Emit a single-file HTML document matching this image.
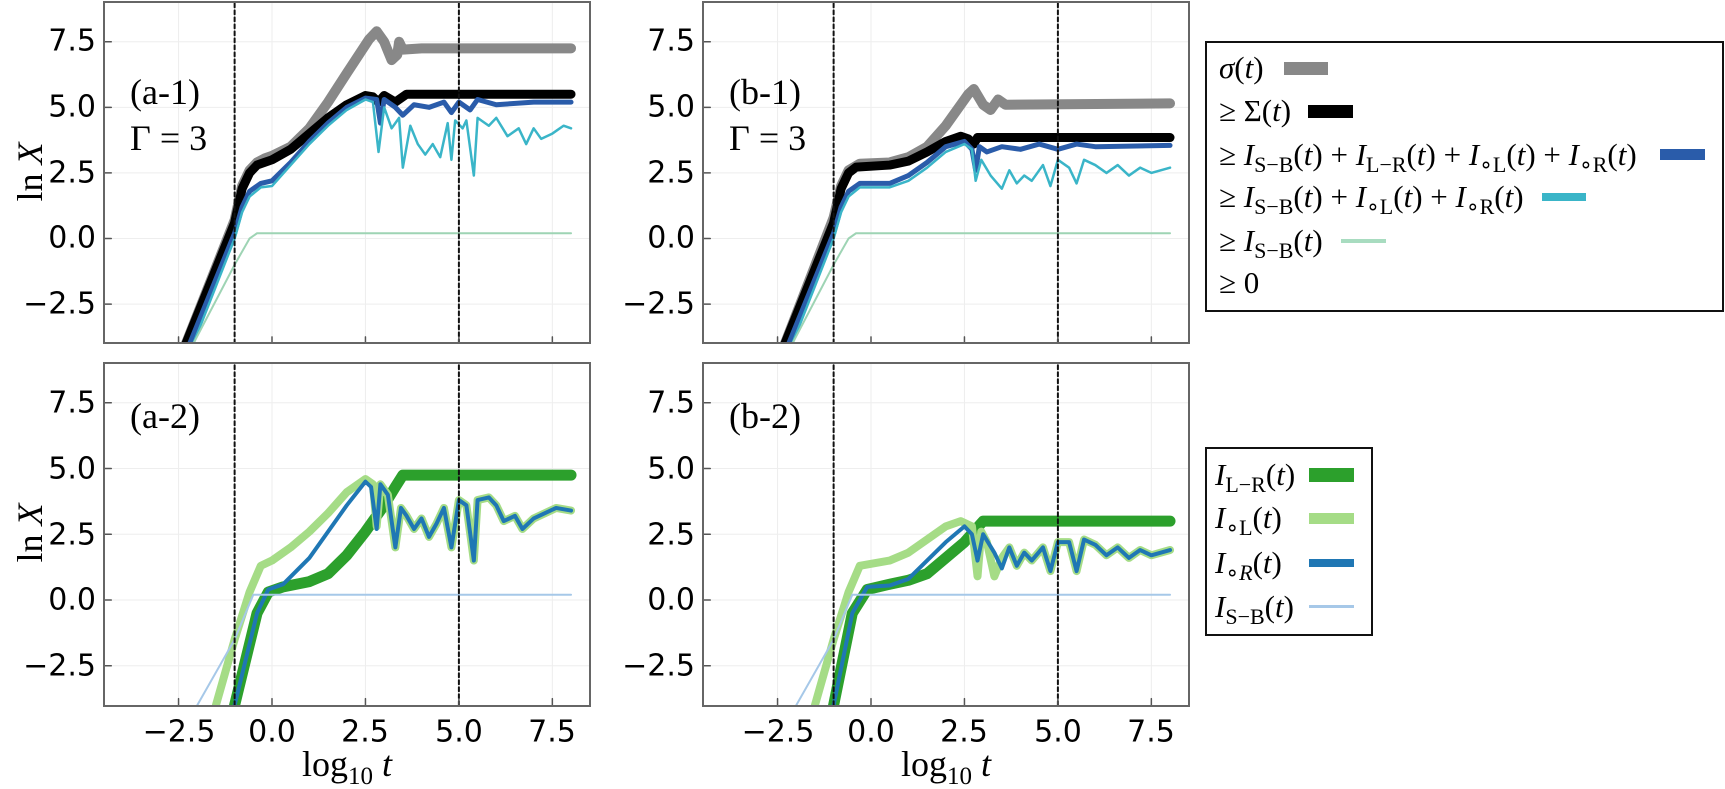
<!DOCTYPE html>
<html><head><meta charset="utf-8"><style>
html,body{margin:0;padding:0;background:#fff;}
body{width:1725px;height:789px;position:relative;overflow:hidden;font-family:"Liberation Serif",serif;}
.lg{position:absolute;border:2px solid #111;background:#fff;box-sizing:border-box;}
.it{position:absolute;font-family:"Liberation Serif",serif;font-size:31px;line-height:30px;white-space:nowrap;color:#000;}
.it i{font-style:italic;}
.it sub{font-size:22px;vertical-align:-7px;line-height:0;}
.sw{position:absolute;}
</style></head><body>
<svg width="1725" height="789" style="position:absolute;left:0;top:0" xmlns="http://www.w3.org/2000/svg">
<defs>
<clipPath id="c1"><rect x="104" y="2" width="486" height="341"/></clipPath>
<clipPath id="c2"><rect x="703" y="2" width="486" height="341"/></clipPath>
<clipPath id="c3"><rect x="104" y="363" width="486" height="343"/></clipPath>
<clipPath id="c4"><rect x="703" y="363" width="486" height="343"/></clipPath>
<g id="grid" stroke="#eee" stroke-width="1" fill="none">
<path vector-effect="non-scaling-stroke" d="M-2.5,-4V9M0,-4V9M2.5,-4V9M5,-4V9M7.5,-4V9M-4.5,-2.5H8.5M-4.5,0H8.5M-4.5,2.5H8.5M-4.5,5H8.5M-4.5,7.5H8.5"/>
</g>
<g id="vl"><path vector-effect="non-scaling-stroke" d="M-1,-4V9M5,-4V9" stroke="#111" stroke-width="2" stroke-dasharray="4,3" fill="none"/></g>
<g id="ticks"><path vector-effect="non-scaling-stroke" d="M-2.5,-4V-3.75M0,-4V-3.75M2.5,-4V-3.75M5,-4V-3.75M7.5,-4V-3.75M-4.5,-2.5H-4.3M-4.5,0H-4.3M-4.5,2.5H-4.3M-4.5,5H-4.3M-4.5,7.5H-4.3" stroke="#555" stroke-width="1.5" fill="none"/></g>
</defs>

<g clip-path="url(#c1)"><g transform="translate(272,238.5) scale(37.38,-26.23)" fill="none" stroke-linejoin="round" stroke-linecap="round">
<use href="#grid"/>
<polyline vector-effect="non-scaling-stroke" stroke="#888" stroke-width="10" points="-2.3,-4 -1,0.7 -0.8,2 -0.6,2.6 -0.4,2.9 -0.2,3.05 0,3.15 0.5,3.5 1,4.2 1.5,5.2 2,6.3 2.6,7.6 2.8,7.9 3,7.5 3.2,6.8 3.35,7 3.4,7.5 3.5,7.2 4,7.25 8,7.25"/>
<polyline vector-effect="non-scaling-stroke" stroke="#000" stroke-width="9" points="-2.3,-4 -1,0.6 -0.8,1.9 -0.6,2.5 -0.4,2.8 -0.2,2.9 0,3 0.5,3.4 1,4 1.5,4.6 2,5.1 2.5,5.45 2.7,5.4 2.85,5.2 3,5.45 3.3,5.2 3.6,5.5 8,5.5"/>
<polyline vector-effect="non-scaling-stroke" stroke="#2a5caa" stroke-width="5" points="-2.2,-4 -1,0.2 -0.8,1.2 -0.6,1.8 -0.3,2.1 0,2.2 0.5,2.9 1,3.7 1.5,4.4 2,5 2.5,5.35 2.8,5.3 2.9,4.4 3,5.3 3.3,5 3.5,4.7 3.8,5.1 4.2,5 4.6,5.2 4.8,4.8 5,5.2 5.3,4.9 5.5,5.3 6,5.1 7,5.2 8,5.2"/>
<polyline vector-effect="non-scaling-stroke" stroke="#3ab5c8" stroke-width="2.5" points="-2.1,-4 -1,0 -0.8,1 -0.6,1.6 -0.3,1.95 0,2 0.5,2.8 1,3.6 1.5,4.3 2,4.9 2.5,5.3 2.7,5.2 2.85,3.3 3,5 3.2,4.2 3.4,4.6 3.5,2.7 3.7,4.3 3.9,3.6 4.1,3.2 4.3,3.6 4.5,3.1 4.7,4.4 4.8,3 4.9,4.5 5.1,4.2 5.2,4.5 5.4,2.4 5.5,4.6 5.8,4.3 6,4.6 6.3,3.9 6.6,4.2 6.8,3.6 7,4.2 7.2,3.8 7.5,4 7.8,4.3 8,4.2"/>
<polyline vector-effect="non-scaling-stroke" stroke="#9ed4b4" stroke-width="2" points="-2.1,-4 -1,-1 -0.6,0 -0.4,0.2 8,0.2"/>
<use href="#vl"/><use href="#ticks"/>
</g></g>
<rect x="104" y="2" width="486" height="341" fill="none" stroke="#666" stroke-width="2"/>

<g clip-path="url(#c2)"><g transform="translate(871,238.5) scale(37.38,-26.23)" fill="none" stroke-linejoin="round" stroke-linecap="round">
<use href="#grid"/>
<polyline vector-effect="non-scaling-stroke" stroke="#888" stroke-width="10" points="-2.3,-4 -1,0.8 -0.8,2 -0.6,2.6 -0.3,2.85 0.5,2.9 1,3.1 1.5,3.5 2,4.3 2.4,5.1 2.6,5.5 2.75,5.7 3,5.1 3.2,4.9 3.4,5.3 3.6,5.1 8,5.15"/>
<polyline vector-effect="non-scaling-stroke" stroke="#000" stroke-width="9" points="-2.3,-4 -1,0.6 -0.8,1.9 -0.6,2.5 -0.4,2.72 0.5,2.8 1,2.95 1.5,3.3 2,3.7 2.4,3.9 2.6,3.8 2.75,3.6 2.85,3.85 8,3.85"/>
<polyline vector-effect="non-scaling-stroke" stroke="#2a5caa" stroke-width="5" points="-2.2,-4 -1,0.2 -0.8,1.2 -0.6,1.8 -0.3,2.1 0.5,2.1 1,2.4 1.5,2.9 2,3.5 2.5,3.7 2.7,3.4 2.8,2.6 2.9,3.5 3.1,3.3 3.5,3.5 4,3.4 4.5,3.6 5,3.4 5.5,3.6 6,3.5 8,3.55"/>
<polyline vector-effect="non-scaling-stroke" stroke="#3ab5c8" stroke-width="2.5" points="-2.1,-4 -1,0 -0.8,1 -0.6,1.6 -0.3,1.95 0.5,1.95 1,2.2 1.5,2.7 2,3.3 2.5,3.6 2.7,3.4 2.8,2.2 2.95,3 3.2,2.4 3.5,1.9 3.7,2.6 3.9,2.1 4.1,2.4 4.3,2.2 4.6,2.8 4.8,2 5,3 5.3,2.7 5.5,2.1 5.7,3 6,2.8 6.3,2.5 6.6,2.8 6.9,2.4 7.2,2.7 7.5,2.5 8,2.7"/>
<polyline vector-effect="non-scaling-stroke" stroke="#9ed4b4" stroke-width="2" points="-2.1,-4 -1,-1 -0.6,0 -0.4,0.2 8,0.2"/>
<use href="#vl"/><use href="#ticks"/>
</g></g>
<rect x="703" y="2" width="486" height="341" fill="none" stroke="#666" stroke-width="2"/>

<g clip-path="url(#c3)"><g transform="translate(272,600) scale(37.38,-26.3)" fill="none" stroke-linejoin="round" stroke-linecap="round">
<use href="#grid"/>
<polyline vector-effect="non-scaling-stroke" stroke="#2ca02c" stroke-width="11" points="-1,-4 -0.4,-0.5 -0.1,0.3 0.3,0.5 1,0.7 1.5,1 2,1.7 2.5,2.6 3,3.6 3.3,4.3 3.5,4.75 8,4.75"/>
<polyline vector-effect="non-scaling-stroke" stroke="#a5dc86" stroke-width="8" points="-1.5,-4 -1,-1.5 -0.6,0.3 -0.3,1.3 0,1.5 0.5,2 1,2.6 1.5,3.3 2,4.1 2.5,4.6 2.7,4.4 2.8,2.8 2.9,4.4 3.1,4 3.3,2 3.45,3.5 3.6,3.2 3.8,2.7 4,3.1 4.2,2.4 4.4,2.9 4.6,3.5 4.8,2 5,3.8 5.2,3.6 5.4,1.5 5.5,3.8 5.8,3.9 6,3.6 6.2,3 6.5,3.2 6.7,2.7 7,3.1 7.3,3.3 7.6,3.5 8,3.4"/>
<polyline vector-effect="non-scaling-stroke" stroke="#1f77b4" stroke-width="4" points="-1,-4 -0.4,-0.5 -0.1,0.4 0.3,0.6 1,1.6 1.5,2.6 2,3.6 2.5,4.5 2.65,4.3 2.8,2.7 2.9,4.4 3.1,4 3.3,2 3.45,3.5 3.6,3.2 3.8,2.7 4,3.1 4.2,2.4 4.4,2.9 4.6,3.5 4.8,2 5,3.8 5.2,3.6 5.4,1.5 5.5,3.8 5.8,3.9 6,3.6 6.2,3 6.5,3.2 6.7,2.7 7,3.1 7.3,3.3 7.6,3.5 8,3.4"/>
<polyline vector-effect="non-scaling-stroke" stroke="#a6c8e8" stroke-width="2" points="-2,-4 -1,-1.5 -0.5,0.2 8,0.2"/>
<use href="#vl"/><use href="#ticks"/>
</g></g>
<rect x="104" y="363" width="486" height="343" fill="none" stroke="#666" stroke-width="2"/>

<g clip-path="url(#c4)"><g transform="translate(871,600) scale(37.38,-26.3)" fill="none" stroke-linejoin="round" stroke-linecap="round">
<use href="#grid"/>
<polyline vector-effect="non-scaling-stroke" stroke="#2ca02c" stroke-width="11" points="-1,-4 -0.5,-0.5 -0.1,0.4 0.5,0.6 1,0.75 1.5,1 2,1.6 2.5,2.2 3,3 8,3"/>
<polyline vector-effect="non-scaling-stroke" stroke="#a5dc86" stroke-width="8" points="-1.5,-4 -1,-1.5 -0.6,0.3 -0.3,1.3 0.5,1.5 1,1.8 1.5,2.3 2,2.8 2.4,3 2.7,2.8 2.85,0.9 2.95,2.6 3.1,2.2 3.3,0.9 3.5,1.6 3.7,2 3.9,1.3 4.1,1.8 4.3,1.5 4.6,2 4.8,1.1 5,2.2 5.3,2.2 5.5,1.1 5.7,2.3 6,2.1 6.3,1.7 6.6,2 6.9,1.6 7.2,1.9 7.5,1.7 8,1.9"/>
<polyline vector-effect="non-scaling-stroke" stroke="#1f77b4" stroke-width="4" points="-1,-4 -0.5,-0.5 -0.1,0.5 0.5,0.55 1,0.8 1.5,1.5 2,2.2 2.5,2.8 2.7,2.5 2.85,1.5 3,2.5 3.3,1.8 3.5,1.2 3.7,2 3.9,1.3 4.1,1.8 4.3,1.5 4.6,2 4.8,1.1 5,2.2 5.3,2.2 5.5,1.1 5.7,2.3 6,2.1 6.3,1.7 6.6,2 6.9,1.6 7.2,1.9 7.5,1.7 8,1.9"/>
<polyline vector-effect="non-scaling-stroke" stroke="#a6c8e8" stroke-width="2" points="-2,-4 -1,-1.5 -0.5,0.2 8,0.2"/>
<use href="#vl"/><use href="#ticks"/>
</g></g>
<rect x="703" y="363" width="486" height="343" fill="none" stroke="#666" stroke-width="2"/>

<g font-family="DejaVu Sans, sans-serif" font-size="30" fill="#000" text-anchor="end" dominant-baseline="central">
<text x="96" y="41">7.5</text><text x="96" y="107">5.0</text><text x="96" y="173">2.5</text><text x="96" y="238">0.0</text><text x="96" y="304">−2.5</text>
<text x="695" y="41">7.5</text><text x="695" y="107">5.0</text><text x="695" y="173">2.5</text><text x="695" y="238">0.0</text><text x="695" y="304">−2.5</text>
<text x="96" y="403">7.5</text><text x="96" y="469">5.0</text><text x="96" y="535">2.5</text><text x="96" y="600">0.0</text><text x="96" y="666">−2.5</text>
<text x="695" y="403">7.5</text><text x="695" y="469">5.0</text><text x="695" y="535">2.5</text><text x="695" y="600">0.0</text><text x="695" y="666">−2.5</text>
</g>
<g font-family="DejaVu Sans, sans-serif" font-size="30" fill="#000" text-anchor="middle" dominant-baseline="central">
<text x="179" y="732">−2.5</text><text x="272" y="732">0.0</text><text x="365" y="732">2.5</text><text x="459" y="732">5.0</text><text x="552" y="732">7.5</text>
<text x="778" y="732">−2.5</text><text x="871" y="732">0.0</text><text x="964" y="732">2.5</text><text x="1058" y="732">5.0</text><text x="1151" y="732">7.5</text>
</g>
<g font-family="Liberation Serif, serif" font-size="36" fill="#000">
<text transform="translate(30,172) rotate(-90)" text-anchor="middle" dominant-baseline="central">ln <tspan font-style="italic">X</tspan></text>
<text transform="translate(30,533) rotate(-90)" text-anchor="middle" dominant-baseline="central">ln <tspan font-style="italic">X</tspan></text>
<text x="347" y="776" text-anchor="middle">log<tspan font-size="25" dy="8">10</tspan><tspan dy="-8" font-style="italic"> t</tspan></text>
<text x="946" y="776" text-anchor="middle">log<tspan font-size="25" dy="8">10</tspan><tspan dy="-8" font-style="italic"> t</tspan></text>
</g>
<g font-family="Liberation Serif, serif" font-size="36" fill="#000" dominant-baseline="central">
<text x="130" y="92">(a-1)</text><text x="130" y="138">Γ = 3</text>
<text x="729" y="92">(b-1)</text><text x="729" y="138">Γ = 3</text>
<text x="130" y="416">(a-2)</text>
<text x="729" y="416">(b-2)</text>
</g>
</svg>

<div class="lg" style="left:1205px;top:41px;width:519px;height:271px;"></div>
<div class="it" style="left:1219px;top:53px;"><i>σ</i>(<i>t</i>)</div>
<div class="sw" style="left:1284px;top:62px;width:44px;height:13px;background:#888"></div>
<div class="it" style="left:1219px;top:96px;">≥ Σ(<i>t</i>)</div>
<div class="sw" style="left:1308px;top:105px;width:45px;height:13px;background:#000"></div>
<div class="it" style="left:1219px;top:140px;">≥ <i>I</i><sub>S−B</sub>(<i>t</i>) + <i>I</i><sub>L−R</sub>(<i>t</i>) + <i>I</i><sub>∘L</sub>(<i>t</i>) + <i>I</i><sub>∘R</sub>(<i>t</i>)</div>
<div class="sw" style="left:1660px;top:149px;width:45px;height:11px;background:#2a5caa"></div>
<div class="it" style="left:1219px;top:182px;">≥ <i>I</i><sub>S−B</sub>(<i>t</i>) + <i>I</i><sub>∘L</sub>(<i>t</i>) + <i>I</i><sub>∘R</sub>(<i>t</i>)</div>
<div class="sw" style="left:1542px;top:193px;width:44px;height:8px;background:#3ab5c8"></div>
<div class="it" style="left:1219px;top:226px;">≥ <i>I</i><sub>S−B</sub>(<i>t</i>)</div>
<div class="sw" style="left:1341px;top:239px;width:45px;height:4px;background:#a8dcc0"></div>
<div class="it" style="left:1219px;top:268px;">≥ 0</div>

<div class="lg" style="left:1205px;top:447px;width:168px;height:189px;"></div>
<div class="it" style="left:1215px;top:460px;"><i>I</i><sub>L−R</sub>(<i>t</i>)</div>
<div class="sw" style="left:1309px;top:468px;width:45px;height:14px;background:#2ca02c"></div>
<div class="it" style="left:1215px;top:503px;"><i>I</i><sub>∘L</sub>(<i>t</i>)</div>
<div class="sw" style="left:1309px;top:513px;width:45px;height:11px;background:#a5dc86"></div>
<div class="it" style="left:1215px;top:548px;"><i>I</i><sub>∘<i>R</i></sub>(<i>t</i>)</div>
<div class="sw" style="left:1309px;top:559px;width:45px;height:8px;background:#1f77b4"></div>
<div class="it" style="left:1215px;top:592px;"><i>I</i><sub>S−B</sub>(<i>t</i>)</div>
<div class="sw" style="left:1309px;top:605px;width:45px;height:3px;background:#a6c8e8"></div>
</body></html>
